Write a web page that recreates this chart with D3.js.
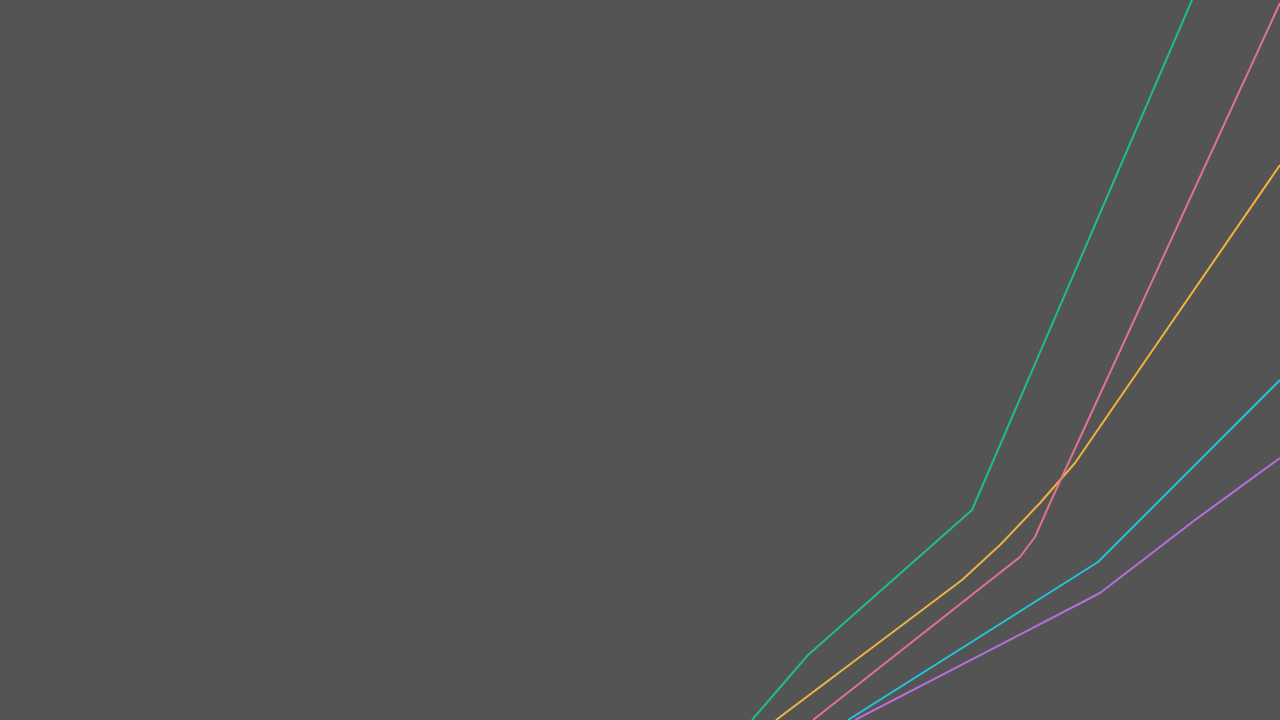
<!DOCTYPE html>
<html>
<head>
  <meta charset="UTF-8">
  <title>Lines</title>
  <style>
    html, body { margin: 0; padding: 0; background: #545454; overflow: hidden; }
    svg { display: block; }
  </style>
</head>
<body>
<svg id="chart"></svg>
<script src="https://d3js.org/d3.v7.min.js"></script>
<script>

// values (x, y in chart units)
var greenX  = [75.2, 80.8, 97.2, 119.2];
var greenY  = [0, 6.5, 21.0, 72];
var yellowX = [77.6, 96.2, 100.0, 104.0, 107.5, 128];
var yellowY = [0, 14.0, 17.5, 21.7, 25.7, 55.5];
var pinkX   = [81.3, 102.0, 103.5, 105.0, 128];
var pinkY   = [0, 16.3, 18.3, 21.7, 71.7];
var cyanX   = [84.8, 109.8, 128];
var cyanY   = [0, 15.8, 34.0];
var purpleX = [85.5, 110.0, 119.5, 128];
var purpleY = [0, 12.7, 20.0, 26.2];

var seriesNames  = ["green", "yellow", "pink", "cyan", "purple"];
var seriesColors = ["#1dbf86", "#f1b23e", "#e2738d", "#22c4dc", "#b66fdc"];

let width = 1280, height = 720;

var svg = d3.select("#chart")
    .attr("width", width)
    .attr("height", height)

svg.append("rect")
    .attr("width", width)
    .attr("height", height)
    .attr("fill", "#545454")

var x = d3.scaleLinear().domain([0, 128]).range([0, width])
var y = d3.scaleLinear().domain([0, 72]).range([height, 0])

function pairs(xs, ys) {
    return xs.map(function(d, i){ return [d, ys[i]] })
}

var allSeries = [
    pairs(greenX, greenY),
    pairs(yellowX, yellowY),
    pairs(pinkX, pinkY),
    pairs(cyanX, cyanY),
    pairs(purpleX, purpleY)
]

var line = d3.line()
    .x(function(d){ return x(d[0]) })
    .y(function(d){ return y(d[1]) })
    .curve(d3.curveLinear)

var color = d3.scaleOrdinal().domain(seriesNames).range(seriesColors)

svg.append("g")
    .selectAll("path")
    .data(allSeries)
    .enter()
    .append("path")
    .attr("d", line)
    .attr("fill", "none")
    .attr("stroke", function(d, i){ return color(seriesNames[i]) })
    .attr("stroke-width", 2)
    .attr("stroke-linejoin", "round")

</script>
</body>
</html>
